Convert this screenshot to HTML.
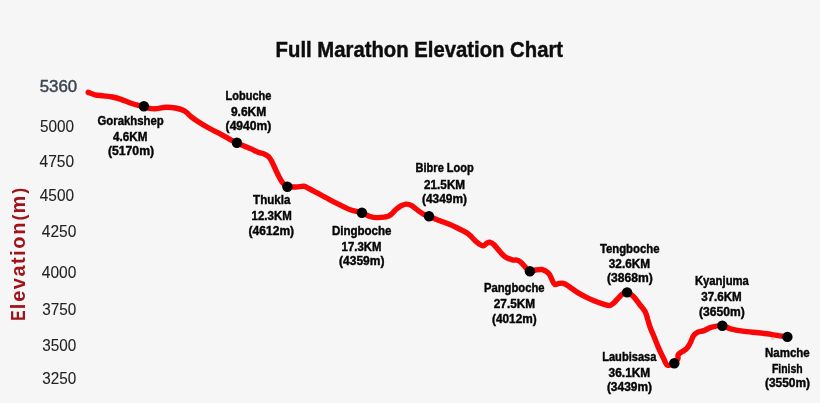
<!DOCTYPE html><html><head><meta charset="utf-8"><style>html,body{margin:0;padding:0;background:#f6f6f6;}svg{display:block;will-change:transform;}text{font-family:"Liberation Sans",sans-serif;}</style></head><body>
<svg width="820" height="403" viewBox="0 0 820 403">
<rect width="820" height="403" fill="#f6f6f6"/>
<text x="275.6" y="57.3" font-weight="bold" font-size="22" fill="#0d0d0d" stroke="#0d0d0d" stroke-width="0.45" textLength="287.5" lengthAdjust="spacingAndGlyphs">Full Marathon Elevation Chart</text>
<text x="39.7" y="92.4" font-size="17.0" fill="#3b4652" stroke="#3b4652" stroke-width="0.45" textLength="37.5" lengthAdjust="spacingAndGlyphs">5360</text>
<text x="40.0" y="131.9" font-size="16.4" fill="#222" stroke="#222" stroke-width="0.10" textLength="34.1" lengthAdjust="spacingAndGlyphs">5000</text>
<text x="39.6" y="167.2" font-size="16.4" fill="#222" stroke="#222" stroke-width="0.10" textLength="34.5" lengthAdjust="spacingAndGlyphs">4750</text>
<text x="39.8" y="200.5" font-size="16.4" fill="#222" stroke="#222" stroke-width="0.10" textLength="34.3" lengthAdjust="spacingAndGlyphs">4500</text>
<text x="41.8" y="237.1" font-size="16.4" fill="#222" stroke="#222" stroke-width="0.10" textLength="34.5" lengthAdjust="spacingAndGlyphs">4250</text>
<text x="41.8" y="278.0" font-size="16.4" fill="#222" stroke="#222" stroke-width="0.10" textLength="34.5" lengthAdjust="spacingAndGlyphs">4000</text>
<text x="42.3" y="315.3" font-size="16.4" fill="#222" stroke="#222" stroke-width="0.10" textLength="34.0" lengthAdjust="spacingAndGlyphs">3750</text>
<text x="42.3" y="351.0" font-size="16.4" fill="#222" stroke="#222" stroke-width="0.10" textLength="34.0" lengthAdjust="spacingAndGlyphs">3500</text>
<text x="42.3" y="384.3" font-size="16.4" fill="#222" stroke="#222" stroke-width="0.10" textLength="34.0" lengthAdjust="spacingAndGlyphs">3250</text>
<text transform="translate(25.1,315.50) rotate(-90) scale(0.78,1.00)" text-anchor="middle" font-weight="bold" font-size="20" fill="#a1131a">E</text>
<text transform="translate(25.1,306.50) rotate(-90) scale(1.00,1.00)" text-anchor="middle" font-weight="bold" font-size="20" fill="#a1131a">l</text>
<text transform="translate(25.1,296.20) rotate(-90) scale(1.00,1.00)" text-anchor="middle" font-weight="bold" font-size="20" fill="#a1131a">e</text>
<text transform="translate(25.1,283.75) rotate(-90) scale(1.00,1.00)" text-anchor="middle" font-weight="bold" font-size="20" fill="#a1131a">v</text>
<text transform="translate(25.1,270.95) rotate(-90) scale(1.00,1.00)" text-anchor="middle" font-weight="bold" font-size="20" fill="#a1131a">a</text>
<text transform="translate(25.1,260.70) rotate(-90) scale(1.00,1.00)" text-anchor="middle" font-weight="bold" font-size="20" fill="#a1131a">t</text>
<text transform="translate(25.1,253.25) rotate(-90) scale(1.00,1.00)" text-anchor="middle" font-weight="bold" font-size="20" fill="#a1131a">i</text>
<text transform="translate(25.1,242.60) rotate(-90) scale(1.00,1.00)" text-anchor="middle" font-weight="bold" font-size="20" fill="#a1131a">o</text>
<text transform="translate(25.1,228.75) rotate(-90) scale(1.00,1.00)" text-anchor="middle" font-weight="bold" font-size="20" fill="#a1131a">n</text>
<text transform="translate(25.1,217.50) rotate(-90) scale(0.90,0.90)" text-anchor="middle" font-weight="bold" font-size="20" fill="#a1131a">(</text>
<text transform="translate(25.1,204.55) rotate(-90) scale(1.00,1.00)" text-anchor="middle" font-weight="bold" font-size="20" fill="#a1131a">m</text>
<text transform="translate(25.1,190.85) rotate(-90) scale(0.90,0.90)" text-anchor="middle" font-weight="bold" font-size="20" fill="#a1131a">)</text>
<path d="M88.2,92.4 C89.3,92.8 92.4,94.2 95.0,94.8 C97.6,95.4 100.8,95.4 103.7,95.8 C106.6,96.2 109.5,96.4 112.4,97.0 C115.3,97.6 118.2,98.4 121.1,99.4 C124.0,100.4 126.8,101.8 129.7,102.8 C132.6,103.8 136.0,104.8 138.4,105.4 C140.8,106.0 142.2,106.0 143.9,106.5 C145.6,107.0 146.6,107.8 148.5,108.2 C150.4,108.6 152.5,109.0 155.4,108.8 C158.3,108.6 162.5,107.4 165.8,107.3 C169.1,107.2 172.5,107.5 175.4,108.0 C178.3,108.5 181.2,109.3 183.2,110.2 C185.2,111.1 186.2,112.1 187.5,113.2 C188.8,114.3 189.4,115.4 191.0,116.7 C192.6,118.0 194.2,119.1 197.1,121.0 C200.0,122.9 205.3,126.1 208.7,128.0 C212.1,129.9 214.5,130.9 217.4,132.4 C220.3,133.9 222.8,135.4 226.0,137.1 C229.2,138.8 233.3,141.1 236.9,142.8 C240.5,144.5 245.2,146.4 247.7,147.5 C250.2,148.6 250.3,148.5 252.0,149.3 C253.7,150.1 256.0,151.4 258.0,152.2 C260.0,153.0 262.4,153.2 264.1,153.9 C265.8,154.6 267.2,155.5 268.4,156.5 C269.5,157.5 270.1,158.6 271.0,160.0 C271.9,161.4 272.7,163.4 273.6,165.2 C274.5,167.0 275.3,169.1 276.2,171.0 C277.1,172.9 277.9,174.6 278.9,176.5 C279.9,178.4 280.8,180.5 282.2,182.2 C283.6,183.9 285.1,185.7 287.4,186.5 C289.7,187.3 293.2,187.0 296.0,187.0 C298.8,187.0 301.9,186.1 303.9,186.3 C305.9,186.5 305.9,187.0 308.2,188.2 C310.5,189.3 314.9,191.7 317.7,193.2 C320.5,194.7 322.3,195.8 325.0,197.2 C327.7,198.6 330.8,200.3 333.7,201.8 C336.6,203.3 339.5,204.7 342.4,206.1 C345.3,207.5 347.8,208.9 351.0,210.0 C354.2,211.1 358.7,211.6 361.9,212.7 C365.1,213.8 367.6,215.7 370.1,216.5 C372.6,217.3 374.0,217.7 377.1,217.6 C380.2,217.5 385.6,217.3 388.7,216.0 C391.8,214.7 393.6,211.5 395.6,209.8 C397.6,208.1 399.1,206.9 400.8,205.9 C402.5,204.9 404.2,204.2 406.0,204.1 C407.8,204.0 409.3,204.3 411.3,205.4 C413.3,206.5 416.2,209.2 418.2,210.6 C420.2,212.0 421.6,213.1 423.4,214.1 C425.2,215.1 426.2,215.2 429.0,216.3 C431.8,217.4 436.7,219.5 440.0,220.8 C443.3,222.1 445.8,222.9 448.7,224.1 C451.6,225.3 454.5,226.6 457.4,228.0 C460.3,229.4 463.8,231.1 466.0,232.4 C468.2,233.7 468.9,234.5 470.4,235.8 C471.8,237.1 473.1,238.8 474.7,240.2 C476.3,241.6 478.4,243.6 479.9,244.5 C481.3,245.4 482.2,246.0 483.4,245.8 C484.6,245.6 485.8,243.8 486.9,243.2 C488.0,242.6 489.1,242.1 490.3,242.3 C491.5,242.5 492.2,242.9 493.8,244.5 C495.4,246.1 498.3,249.9 500.2,252.0 C502.1,254.1 503.4,255.7 505.4,257.0 C507.4,258.3 510.4,259.3 512.4,259.9 C514.4,260.4 516.0,259.7 517.6,260.3 C519.2,260.9 520.5,262.0 521.9,263.3 C523.3,264.6 525.0,267.0 526.3,268.3 C527.6,269.6 528.3,270.9 529.9,271.2 C531.5,271.5 533.8,270.3 535.8,270.0 C537.8,269.7 540.2,269.3 541.9,269.5 C543.6,269.7 544.7,270.4 546.0,271.2 C547.3,272.0 548.5,273.0 549.5,274.5 C550.5,276.0 551.3,278.5 552.2,280.2 C553.1,281.9 553.6,284.0 554.8,284.5 C555.9,285.0 557.7,283.6 559.1,283.4 C560.5,283.2 561.8,282.9 563.4,283.4 C565.0,283.9 566.4,284.8 568.7,286.3 C571.0,287.8 574.5,290.6 577.4,292.4 C580.3,294.2 583.1,295.7 586.0,297.1 C588.9,298.5 591.8,299.8 594.7,301.0 C597.6,302.2 600.9,303.3 603.4,304.1 C605.9,304.9 607.8,305.8 609.5,305.6 C611.2,305.5 612.0,304.5 613.5,303.2 C615.0,301.9 616.9,299.6 618.4,298.0 C619.9,296.4 621.3,294.6 622.8,293.7 C624.2,292.8 625.4,292.0 627.1,292.4 C628.8,292.8 631.0,294.2 633.2,296.3 C635.4,298.4 638.1,302.4 640.1,305.0 C642.1,307.6 644.0,309.6 645.3,311.9 C646.5,314.2 646.8,316.3 647.6,319.0 C648.5,321.7 649.2,324.8 650.4,328.0 C651.6,331.2 653.4,334.9 654.8,338.4 C656.2,341.9 657.5,345.4 659.0,348.9 C660.5,352.3 662.5,356.4 663.9,359.1 C665.3,361.8 665.7,364.5 667.4,365.2 C669.1,365.9 672.6,364.3 674.3,363.3 C676.0,362.3 677.1,360.5 677.8,359.1 C678.4,357.7 677.6,356.0 678.2,354.8 C678.8,353.6 679.9,353.2 681.3,352.2 C682.7,351.2 685.0,350.1 686.5,348.7 C688.0,347.2 688.8,345.6 690.0,343.5 C691.2,341.4 692.2,337.7 693.5,335.8 C694.8,333.9 696.1,333.1 697.8,332.2 C699.5,331.3 701.6,331.4 703.9,330.6 C706.2,329.8 708.6,328.0 711.7,327.2 C714.8,326.4 719.2,325.4 722.3,325.7 C725.4,326.0 727.1,327.9 730.5,328.8 C733.9,329.7 738.1,330.5 742.7,331.2 C747.3,331.9 753.3,332.3 758.0,332.8 C762.7,333.3 767.1,333.8 771.0,334.3 C774.9,334.9 778.8,335.7 781.5,336.1 C784.2,336.5 786.4,336.8 787.4,336.9" fill="none" stroke="#fa0606" stroke-width="5.4" stroke-linecap="round" stroke-linejoin="round"/>
<circle cx="772.8" cy="338.3" r="1.6" fill="#f5a860" opacity="0.55"/>
<circle cx="143.9" cy="106.3" r="5.2" fill="#000"/>
<circle cx="236.9" cy="142.8" r="5.2" fill="#000"/>
<circle cx="287.4" cy="186.8" r="5.2" fill="#000"/>
<circle cx="361.9" cy="212.7" r="5.2" fill="#000"/>
<circle cx="429.0" cy="216.3" r="5.2" fill="#000"/>
<circle cx="529.9" cy="271.2" r="5.2" fill="#000"/>
<circle cx="627.1" cy="292.4" r="5.2" fill="#000"/>
<circle cx="674.3" cy="363.3" r="5.2" fill="#000"/>
<circle cx="722.3" cy="325.7" r="5.2" fill="#000"/>
<circle cx="787.4" cy="336.9" r="5.2" fill="#000"/>
<text x="97.5" y="124.7" font-weight="bold" font-size="12" fill="#050505" stroke="#050505" stroke-width="0.4" textLength="66.3" lengthAdjust="spacingAndGlyphs">Gorakhshep</text>
<text x="113.1" y="140.8" font-weight="bold" font-size="12" fill="#050505" stroke="#050505" stroke-width="0.4" textLength="34.3" lengthAdjust="spacingAndGlyphs">4.6KM</text>
<text x="107.9" y="155.2" font-weight="bold" font-size="12" fill="#050505" stroke="#050505" stroke-width="0.4" textLength="46.2" lengthAdjust="spacingAndGlyphs">(5170m)</text>
<text x="225.6" y="100.1" font-weight="bold" font-size="12" fill="#050505" stroke="#050505" stroke-width="0.4" textLength="45.8" lengthAdjust="spacingAndGlyphs">Lobuche</text>
<text x="230.9" y="116.0" font-weight="bold" font-size="12" fill="#050505" stroke="#050505" stroke-width="0.4" textLength="35.4" lengthAdjust="spacingAndGlyphs">9.6KM</text>
<text x="225.6" y="130.2" font-weight="bold" font-size="12" fill="#050505" stroke="#050505" stroke-width="0.4" textLength="45.8" lengthAdjust="spacingAndGlyphs">(4940m)</text>
<text x="253.1" y="203.8" font-weight="bold" font-size="12" fill="#050505" stroke="#050505" stroke-width="0.4" textLength="37.3" lengthAdjust="spacingAndGlyphs">Thukla</text>
<text x="251.6" y="220.2" font-weight="bold" font-size="12" fill="#050505" stroke="#050505" stroke-width="0.4" textLength="40.2" lengthAdjust="spacingAndGlyphs">12.3KM</text>
<text x="248.6" y="235.4" font-weight="bold" font-size="12" fill="#050505" stroke="#050505" stroke-width="0.4" textLength="45.5" lengthAdjust="spacingAndGlyphs">(4612m)</text>
<text x="331.9" y="235.4" font-weight="bold" font-size="12" fill="#050505" stroke="#050505" stroke-width="0.4" textLength="59.6" lengthAdjust="spacingAndGlyphs">Dingboche</text>
<text x="341.6" y="250.8" font-weight="bold" font-size="12" fill="#050505" stroke="#050505" stroke-width="0.4" textLength="39.8" lengthAdjust="spacingAndGlyphs">17.3KM</text>
<text x="339.1" y="265.2" font-weight="bold" font-size="12" fill="#050505" stroke="#050505" stroke-width="0.4" textLength="45.3" lengthAdjust="spacingAndGlyphs">(4359m)</text>
<text x="415.6" y="172.4" font-weight="bold" font-size="12" fill="#050505" stroke="#050505" stroke-width="0.4" textLength="58.2" lengthAdjust="spacingAndGlyphs">Bibre Loop</text>
<text x="424.1" y="188.5" font-weight="bold" font-size="12" fill="#050505" stroke="#050505" stroke-width="0.4" textLength="41.0" lengthAdjust="spacingAndGlyphs">21.5KM</text>
<text x="422.0" y="202.9" font-weight="bold" font-size="12" fill="#050505" stroke="#050505" stroke-width="0.4" textLength="45.0" lengthAdjust="spacingAndGlyphs">(4349m)</text>
<text x="484.0" y="292.2" font-weight="bold" font-size="12" fill="#050505" stroke="#050505" stroke-width="0.4" textLength="60.5" lengthAdjust="spacingAndGlyphs">Pangboche</text>
<text x="493.8" y="308.0" font-weight="bold" font-size="12" fill="#050505" stroke="#050505" stroke-width="0.4" textLength="41.4" lengthAdjust="spacingAndGlyphs">27.5KM</text>
<text x="492.0" y="322.8" font-weight="bold" font-size="12" fill="#050505" stroke="#050505" stroke-width="0.4" textLength="44.7" lengthAdjust="spacingAndGlyphs">(4012m)</text>
<text x="599.9" y="253.1" font-weight="bold" font-size="12" fill="#050505" stroke="#050505" stroke-width="0.4" textLength="59.6" lengthAdjust="spacingAndGlyphs">Tengboche</text>
<text x="608.8" y="268.0" font-weight="bold" font-size="12" fill="#050505" stroke="#050505" stroke-width="0.4" textLength="41.3" lengthAdjust="spacingAndGlyphs">32.6KM</text>
<text x="607.0" y="282.4" font-weight="bold" font-size="12" fill="#050505" stroke="#050505" stroke-width="0.4" textLength="45.8" lengthAdjust="spacingAndGlyphs">(3868m)</text>
<text x="602.2" y="360.9" font-weight="bold" font-size="12" fill="#050505" stroke="#050505" stroke-width="0.4" textLength="54.2" lengthAdjust="spacingAndGlyphs">Laubisasa</text>
<text x="608.6" y="376.5" font-weight="bold" font-size="12" fill="#050505" stroke="#050505" stroke-width="0.4" textLength="41.7" lengthAdjust="spacingAndGlyphs">36.1KM</text>
<text x="606.9" y="391.4" font-weight="bold" font-size="12" fill="#050505" stroke="#050505" stroke-width="0.4" textLength="45.1" lengthAdjust="spacingAndGlyphs">(3439m)</text>
<text x="694.9" y="285.4" font-weight="bold" font-size="12" fill="#050505" stroke="#050505" stroke-width="0.4" textLength="54.0" lengthAdjust="spacingAndGlyphs">Kyanjuma</text>
<text x="701.2" y="301.2" font-weight="bold" font-size="12" fill="#050505" stroke="#050505" stroke-width="0.4" textLength="40.6" lengthAdjust="spacingAndGlyphs">37.6KM</text>
<text x="699.1" y="315.9" font-weight="bold" font-size="12" fill="#050505" stroke="#050505" stroke-width="0.4" textLength="45.7" lengthAdjust="spacingAndGlyphs">(3650m)</text>
<text x="765.0" y="356.7" font-weight="bold" font-size="12" fill="#050505" stroke="#050505" stroke-width="0.4" textLength="44.7" lengthAdjust="spacingAndGlyphs">Namche</text>
<text x="772.0" y="372.5" font-weight="bold" font-size="12" fill="#050505" stroke="#050505" stroke-width="0.4" textLength="30.6" lengthAdjust="spacingAndGlyphs">Finish</text>
<text x="765.0" y="387.2" font-weight="bold" font-size="12" fill="#050505" stroke="#050505" stroke-width="0.4" textLength="45.0" lengthAdjust="spacingAndGlyphs">(3550m)</text>
</svg></body></html>
